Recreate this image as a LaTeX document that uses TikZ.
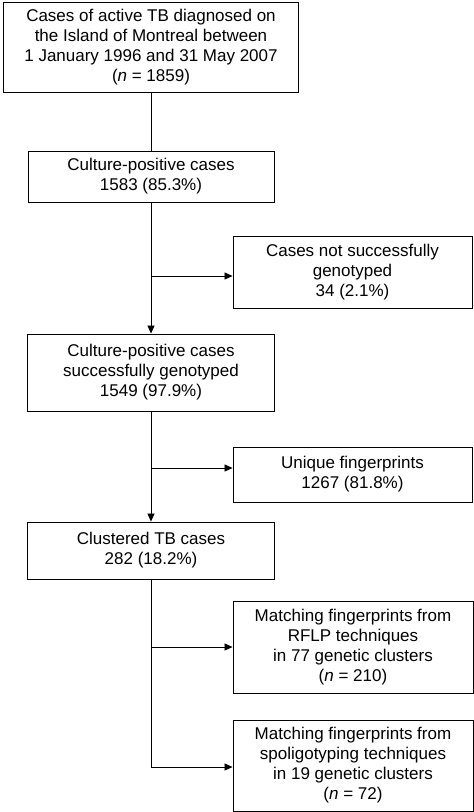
\documentclass[tikz,border=0pt]{standalone}
\usepackage{fontspec}
\setmainfont{Liberation Sans}
\usetikzlibrary{arrows.meta}
\begin{document}
\begin{tikzpicture}[x=1pt,y=-1pt,
  box/.style={draw,line width=0.9pt,align=center,inner sep=0pt,font=\fontsize{17}{20}\selectfont},
  arr/.style={-{Triangle[length=8pt,width=7pt]},line width=0.8pt}]
\useasboundingbox (0,0) rectangle (474,812);
% main column
\node[box,minimum width=295,minimum height=90] (cases) at (151,47)
  {Cases of active TB diagnosed on\\the Island of Montreal between\\1 January 1996 and 31 May 2007\\(\textit{n} = 1859)};
\node[box,minimum width=246,minimum height=51] (culture) at (151,176.5)
  {Culture-positive cases\\1583 (85.3\%)};
\node[box,minimum width=247,minimum height=77] (genotyped) at (151,372.5)
  {Culture-positive cases\\successfully genotyped\\1549 (97.9\%)};
\node[box,minimum width=247,minimum height=57] (clustered) at (151,550.5)
  {Clustered TB cases\\282 (18.2\%)};
% side boxes
\node[box,minimum width=239,minimum height=72] (failed) at (352.5,272)
  {Cases not successfully\\genotyped\\34 (2.1\%)};
\node[box,minimum width=239,minimum height=55] (unique) at (352.5,474.5)
  {Unique fingerprints\\1267 (81.8\%)};
\node[box,minimum width=240,minimum height=92] (rflp) at (353,647)
  {Matching fingerprints from\\RFLP techniques\\in 77 genetic clusters\\(\textit{n} = 210)};
\node[box,minimum width=240,minimum height=91] (spoligo) at (353,765.5)
  {Matching fingerprints from\\spoligotyping techniques\\in 19 genetic clusters\\(\textit{n} = 72)};
% junctions on the trunk
\coordinate (j1) at (151,276);
\coordinate (j2) at (151,468);
\coordinate (j3) at (151,647);
\coordinate (j4) at (151,767);
\draw[line width=0.6pt] (cases) -- (culture);
\draw[arr] (culture) -- (genotyped);
\draw[arr] (j1) -- (j1 -| failed.west);
\draw[arr] (genotyped) -- (clustered);
\draw[arr] (j2) -- (j2 -| unique.west);
\draw[line width=0.8pt] (clustered) -- (j4);
\draw[arr] (j3) -- (j3 -| rflp.west);
\draw[arr] (j4) -- (j4 -| spoligo.west);
\end{tikzpicture}
\end{document}
